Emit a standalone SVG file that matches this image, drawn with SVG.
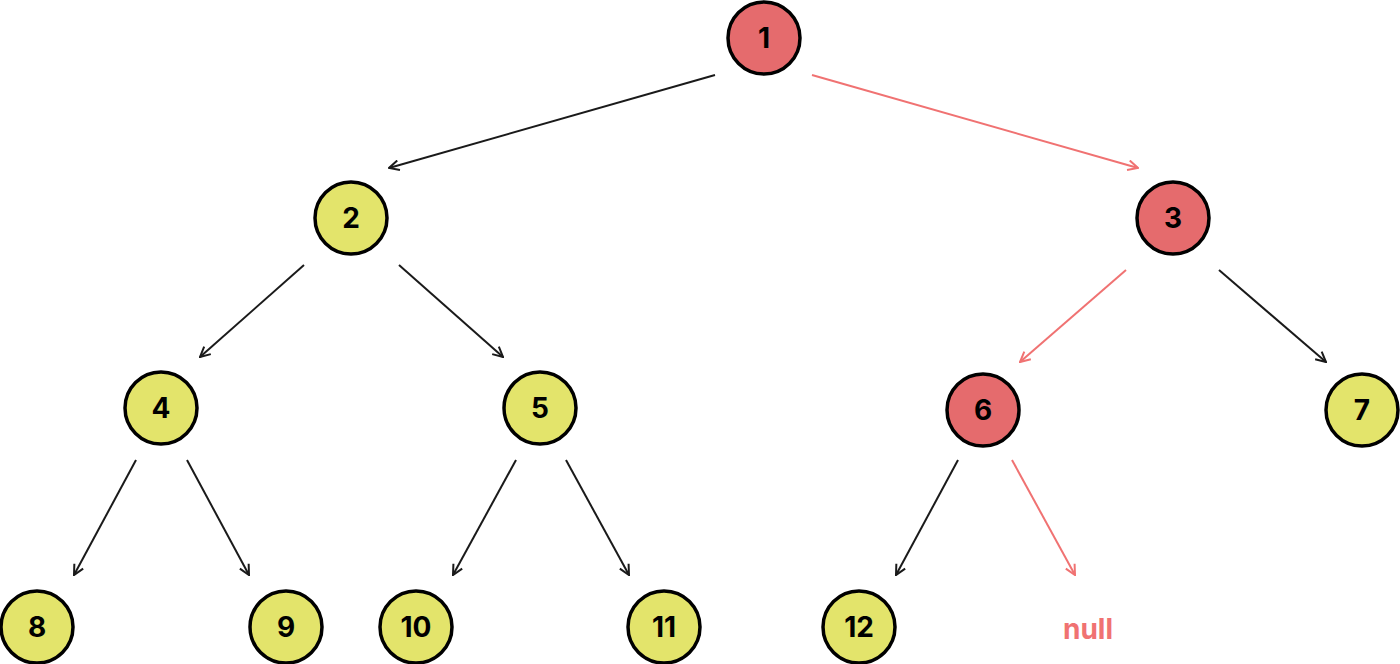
<svg xmlns="http://www.w3.org/2000/svg" width="1400" height="664" viewBox="0 0 1400 664">
<style>
.y{fill:#E3E46B;stroke:#000;stroke-width:3.5}
.r{fill:#E56B6D;stroke:#000;stroke-width:3.5}
.t{font-family:Inter,"Liberation Sans",sans-serif;font-weight:700;font-size:28px;fill:#000;text-anchor:middle;dominant-baseline:central}
.e{stroke:#1a1a1a;stroke-width:2;fill:none;marker-end:url(#ab)}
.er{stroke:#F07272;stroke-width:2;fill:none;marker-end:url(#ar)}
</style>
<defs>
<marker id="ab" viewBox="0 0 12 12" refX="11" refY="6" markerWidth="12" markerHeight="12" markerUnits="userSpaceOnUse" orient="auto"><path d="M1,1 L11,6 L1,11" fill="none" stroke="#1a1a1a" stroke-width="2"/></marker>
<marker id="ar" viewBox="0 0 12 12" refX="11" refY="6" markerWidth="12" markerHeight="12" markerUnits="userSpaceOnUse" orient="auto"><path d="M1,1 L11,6 L1,11" fill="none" stroke="#F07272" stroke-width="2"/></marker>
</defs>
<rect width="1400" height="664" fill="#fff"/>
<g id="connectors">
<line class="e" x1="715" y1="75" x2="389" y2="168"/>
<line class="er" x1="812" y1="75" x2="1138" y2="168"/>
<line class="e" x1="304" y1="265" x2="200" y2="357"/>
<line class="e" x1="399" y1="265" x2="503" y2="357"/>
<line class="er" x1="1126" y1="270" x2="1020" y2="362"/>
<line class="e" x1="1219" y1="270" x2="1326" y2="362"/>
<line class="e" x1="136" y1="460" x2="74" y2="575"/>
<line class="e" x1="187" y1="460" x2="249" y2="575"/>
<line class="e" x1="516" y1="460" x2="453" y2="575"/>
<line class="e" x1="566" y1="460" x2="629" y2="575"/>
<line class="e" x1="958" y1="460" x2="896" y2="575"/>
<line class="er" x1="1012" y1="460" x2="1075" y2="575"/>
</g>
<g id="n1"><circle class="r" cx="764" cy="38" r="36"/><text class="t" x="764" y="38">1</text></g>
<g id="n2"><circle class="y" cx="351" cy="218" r="36"/><text class="t" x="351" y="218">2</text></g>
<g id="n3"><circle class="r" cx="1173" cy="218" r="36"/><text class="t" x="1173" y="218">3</text></g>
<g id="n4"><circle class="y" cx="161" cy="408" r="36"/><text class="t" x="161" y="408">4</text></g>
<g id="n5"><circle class="y" cx="540" cy="408" r="36"/><text class="t" x="540" y="408">5</text></g>
<g id="n6"><circle class="r" cx="983" cy="410" r="36"/><text class="t" x="983" y="410">6</text></g>
<g id="n7"><circle class="y" cx="1362" cy="410" r="36"/><text class="t" x="1362" y="410">7</text></g>
<g id="n8"><circle class="y" cx="37" cy="627" r="36"/><text class="t" x="37" y="627">8</text></g>
<g id="n9"><circle class="y" cx="286" cy="627" r="36"/><text class="t" x="286" y="627">9</text></g>
<g id="n10"><circle class="y" cx="416" cy="627" r="36"/><text class="t" x="416" y="627">10</text></g>
<g id="n11"><circle class="y" cx="664" cy="627" r="36"/><text class="t" x="664" y="627">11</text></g>
<g id="n12"><circle class="y" cx="859" cy="627" r="36"/><text class="t" x="859" y="627">12</text></g>
<g id="nnull"><text class="t" x="1088" y="629" style="fill:#F07272">null</text></g>
</svg>
